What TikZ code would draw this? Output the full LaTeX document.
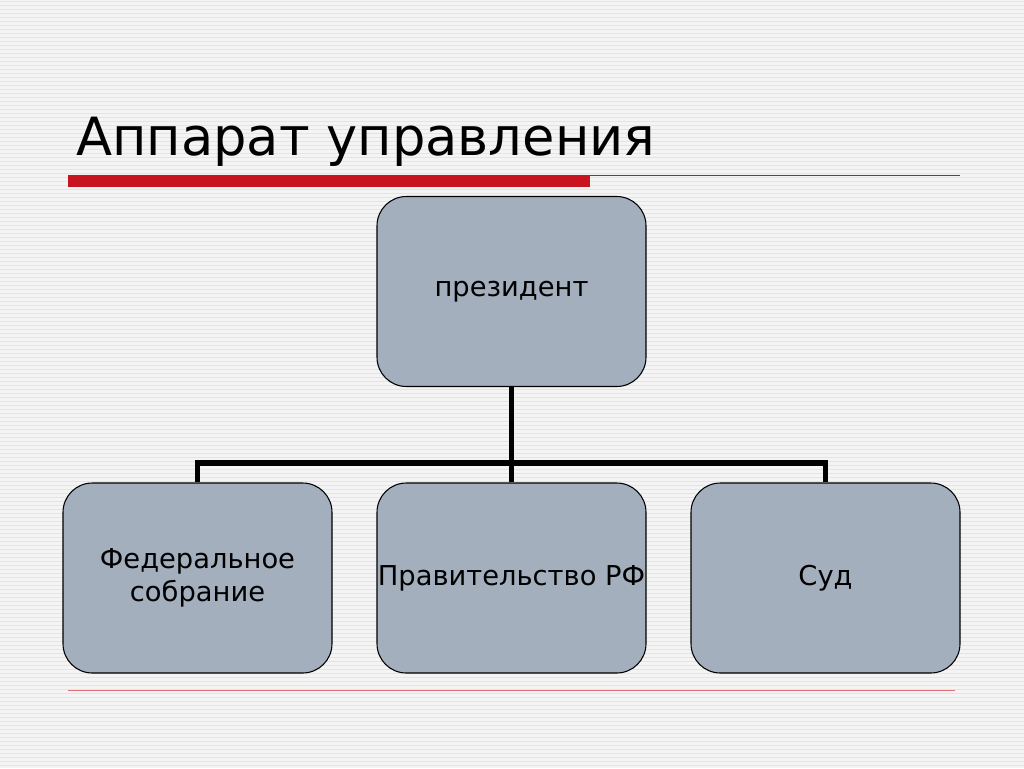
\documentclass[tikz,border=0pt]{standalone}
\usepackage{fontspec}
\setmainfont{DejaVu Sans}
\begin{document}
\begin{tikzpicture}[x=0.75pt,y=-0.75pt,
  box/.style={draw=black,line width=0.8pt,fill=boxc,rounded corners=22pt,minimum width=269*0.75pt,minimum height=190*0.75pt,font=\fontsize{20.5}{25}\selectfont,align=center,inner sep=0pt},
  conn/.style={line width=4pt}]
\definecolor{boxc}{HTML}{A4AFBE}
\definecolor{bg}{HTML}{F4F4F4}
\definecolor{stripe}{HTML}{E4E4E4}
\definecolor{redc}{HTML}{C8141E}
\useasboundingbox (0,0) rectangle (1024,768);
\fill[bg] (0,0) rectangle (1024,768);
\foreach \i in {0,...,191}{\draw[stripe,line width=0.6pt] (0,\i*4+1) -- (1024,\i*4+1);}
\node[anchor=base west,font=\fontsize{39.5}{46}\selectfont,inner sep=0pt] (title) at (76,155) {Аппарат управления};
\fill[redc] (68,175) rectangle (590,187);
\draw[redc,line width=0.6pt] (590,175.5) -- (960,175.5);
\draw[redc!60,line width=0.5pt] (68,690) -- (955,690);
\node[box] (p) at (511.5,291.5) {президент};
\node[box] (f) at (197.5,578) {Федеральное\\собрание};
\node[box] (g) at (511.5,578) {Правительство РФ};
\node[box] (s) at (825.5,578) {Суд};
\coordinate (j) at (511.5,463);
\draw[conn] (p.south) -- (j);
\draw[conn] (f.north) |- (j) -| (s.north);
\draw[conn] (j) -- (g.north);
\end{tikzpicture}
\end{document}
